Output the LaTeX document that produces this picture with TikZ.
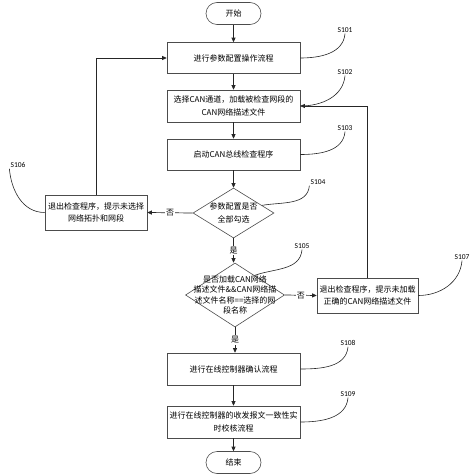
\documentclass[tikz,border=0pt]{standalone}
\usepackage{fontspec}
\setmainfont{Noto Sans CJK SC}
\newfontfamily\tagfont{Carlito}
\usetikzlibrary{arrows.meta, shapes.geometric}

\tikzset{
    every node/.style={font=\fontsize{8}{12.5}\selectfont},
    process/.style={draw=black!70, line width=0.6pt, minimum width=133pt, minimum height=31pt, align=center, inner sep=2pt},
    sidebox/.style={draw=black!70, line width=0.6pt, minimum width=102pt, minimum height=35pt, align=center, inner sep=2pt},
    terminal/.style={draw=black!70, line width=0.6pt, rounded corners=11pt, minimum width=55pt, minimum height=22pt},
    decision/.style={draw=black!70, line width=0.6pt, diamond, inner sep=0pt},
    tag/.style={font=\tagfont\fontsize{7.5}{8}\selectfont, inner sep=1pt},
    arr/.style={draw=black!85, line width=0.7pt, -{Triangle[length=4.5pt,width=4pt]}},
    link/.style={draw=black!85, line width=0.6pt},
    answer/.style={fill=white, inner sep=1pt}
}

\begin{document}
\begin{tikzpicture}[x=1pt, y=-1pt]
                    \useasboundingbox (0,0) rectangle (474,476);
                    % Main column
                    \node[terminal] (start) at (233.5,13.5) {开始};
                    \node[process] (s101) at (233.5,58) {进行参数配置操作流程};
                    \node[process, minimum height=32pt] (s102) at (233.5,106) {选择CAN通道，加载被检查网段的\\CAN网络描述文件};
                    \node[process] (s103) at (233.5,154.5) {启动CAN总线检查程序};
                    \node[decision, minimum width=81pt, minimum height=50pt] (d104) at (233.5,213) {};
                    \node[align=center] at (d104) {参数配置是否\\全部勾选};
                    \node[decision, minimum width=99pt, minimum height=64pt] (d105) at (235,295) {};
                    \node[align=center, font=\fontsize{8}{10.5}\selectfont] at (d105) {是否加载CAN网络\\描述文件\&\&CAN网络描\\述文件名称==选择的网\\段名称};
                    \node[process, minimum height=32pt] (s108) at (233.5,369) {进行在线控制器确认流程};
                    \node[process, minimum height=32pt] (s109) at (233.5,422) {进行在线控制器的收发报文一致性实\\时校核流程};
                    \node[terminal] (end) at (233.5,462.5) {结束};
                    % Side boxes
                    \node[sidebox] (s106) at (96,212.5) {退出检查程序，提示未选择\\网络拓扑和网段};
                    \node[sidebox, minimum width=101pt] (s107) at (367.5,295.5) {退出检查程序，提示未加载\\正确的CAN网络描述文件};
                    % Flow
                    \draw[arr] (start) -- (s101);
                    \draw[arr] (s101) -- (s102);
                    \draw[arr] (s102) -- (s103);
                    \draw[arr] (s103) -- (d104);
                    \draw[arr] (d104.south) -- (d104.south |- d105.north) node[midway, answer] {是};
                    \draw[arr] (d105.south) -- (d105.south |- s108.north) node[midway, answer] {是};
                    \draw[arr] (s108) -- (s109);
                    \draw[arr] (s109) -- (end);
                    % No branches
                    \draw[arr] (d104.west) -- (s106.east) node[midway, answer] {否};
                    \draw[arr] (s106.north) |- (s101.west);
                    \draw[arr] (d105.east) -- (s107.west) node[midway, answer] {否};
                    \draw[arr] (s107.north) |- (s102.east);
                    % Step tags
                    \node[tag] (t101) at (345,30) {S101};
                    \node[tag] (t102) at (345,72) {S102};
                    \node[tag] (t103) at (345,128) {S103};
                    \node[tag] (t104) at (318,182) {S104};
                    \node[tag] (t105) at (302,246) {S105};
                    \node[tag] (t106) at (18,165) {S106};
                    \node[tag] (t107) at (462,257) {S107};
                    \node[tag] (t108) at (348,343) {S108};
                    \node[tag] (t109) at (348,394) {S109};
                    \draw[link] (t101.south) to[out=-95, in=0] (s101.east);
                    \draw[link] (t102.south) to[out=-95, in=0] (s102.east);
                    \draw[link] (t103.south) to[out=-95, in=0] (s103.east);
                    \draw[link] (t104.south west) to[out=-95, in=10] (d104.15);
                    \draw[link] (t105.south) to[out=-95, in=20] (d105.45);
                    \draw[link] (t106.south west) to[out=-85, in=180] (s106.west);
                    \draw[link] (t107.south) to[out=-95, in=0] (s107.east);
                    \draw[link] (t108.south) to[out=-95, in=0] (s108.east);
                    \draw[link] (t109.south) to[out=-95, in=0] (s109.east);
                \end{tikzpicture}
\end{document}
